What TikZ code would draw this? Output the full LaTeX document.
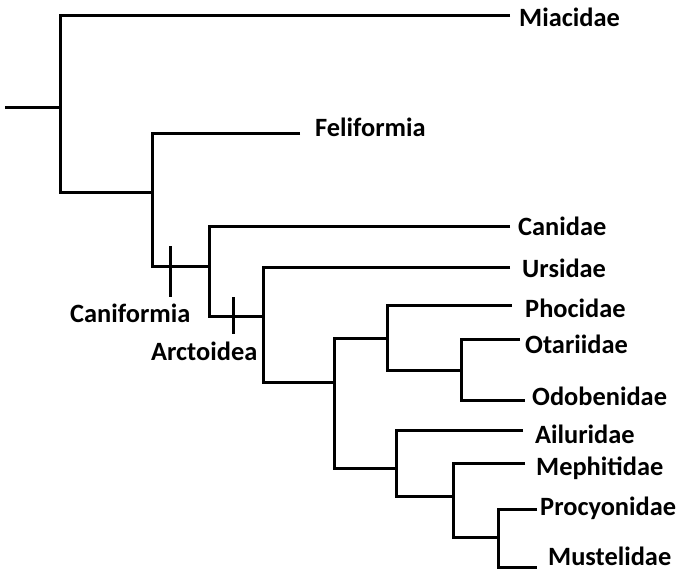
\documentclass[tikz,border=0pt]{standalone}
\usepackage{fontspec}
\setmainfont{Carlito}
\begin{document}
\begin{tikzpicture}[x=1pt,y=-1pt,
  branch/.style={line width=3pt},
  lbl/.style={anchor=base west,inner sep=0pt,font=\fontsize{26.4}{30}\selectfont\bfseries}]
\useasboundingbox (0,0) rectangle (685,575);
% tips and junctions
\coordinate (r0) at (5,108);
\coordinate (n1) at (60,108);
\coordinate (miaTip) at (510,16);
\coordinate (n2) at (152,192);
\coordinate (felTip) at (300,134);
\coordinate (n3) at (209,266);
\coordinate (canTip) at (510,226);
\coordinate (n4) at (263,316);
\coordinate (ursTip) at (510,267);
\coordinate (n5) at (334,382);
\coordinate (n6) at (387,338);
\coordinate (n7) at (396,468);
\coordinate (phoTip) at (512,305);
\coordinate (n8) at (461,370);
\coordinate (otaTip) at (520,339);
\coordinate (odoTip) at (525,400);
\coordinate (ailTip) at (523,430);
\coordinate (n9) at (453,496);
\coordinate (mepTip) at (525,463);
\coordinate (n10) at (498,537);
\coordinate (proTip) at (537,509);
\coordinate (musTip) at (537,567);
\coordinate (cfTop) at (170,246);
\coordinate (cfBot) at (170,297);
\coordinate (arTop) at (233,297);
\coordinate (arBot) at (233,334);
% branches
\draw[branch] (r0) -- (n1);
\draw[branch] (miaTip) -| (n1) |- (n2);
\draw[branch] (felTip) -| (n2) |- (n3);
\draw[branch] (canTip) -| (n3) |- (n4);
\draw[branch] (ursTip) -| (n4) |- (n5);
\draw[branch] (n6) -| (n5) |- (n7);
\draw[branch] (phoTip) -| (n6) |- (n8);
\draw[branch] (otaTip) -| (n8) |- (odoTip);
\draw[branch] (ailTip) -| (n7) |- (n9);
\draw[branch] (mepTip) -| (n9) |- (n10);
\draw[branch] (proTip) -| (n10) |- (musTip);
\draw[branch] (cfTop) -- (cfBot);
\draw[branch] (arTop) -- (arBot);
% labels
\node[lbl] (mia) at (519,27) {Miacidae};
\node[lbl] (fel) at (315,137) {Feliformia};
\node[lbl] (can) at (518,235) {Canidae};
\node[lbl] (urs) at (522,277) {Ursidae};
\node[lbl] (pho) at (525,317) {Phocidae};
\node[lbl] (ota) at (525,353) {Otariidae};
\node[lbl] (odo) at (532,405) {Odobenidae};
\node[lbl] (ail) at (535,443) {Ailuridae};
\node[lbl] (mep) at (536,475) {Mephitidae};
\node[lbl] (pro) at (540,515) {Procyonidae};
\node[lbl] (mus) at (548,565) {Mustelidae};
\node[lbl] (caf) at (70,322) {Caniformia};
\node[lbl] (arc) at (151,360) {Arctoidea};
\end{tikzpicture}
\end{document}
